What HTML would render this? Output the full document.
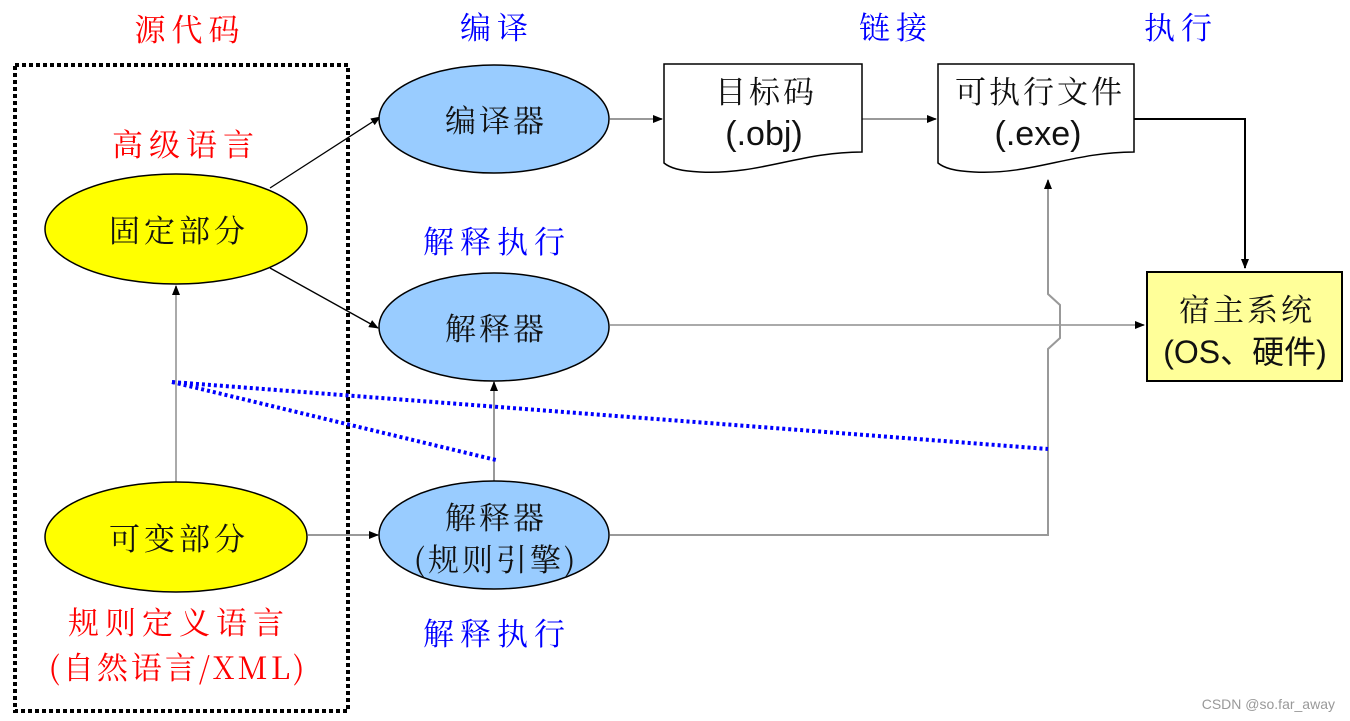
<!DOCTYPE html>
<html><head><meta charset="utf-8"><style>
html,body{margin:0;padding:0;background:#fff;}
svg{display:block;}
text{font-family:"Liberation Sans","Noto Sans CJK SC",sans-serif;}
.k{font-family:"Noto Serif CJK SC","Noto Sans CJK SC",serif;}
</style></head><body>
<svg width="1350" height="721" viewBox="0 0 1350 721" xmlns="http://www.w3.org/2000/svg">
<defs>
<marker id="a" markerWidth="10" markerHeight="8" refX="9" refY="4" orient="auto" markerUnits="userSpaceOnUse">
<path d="M0,0 L10,4 L0,8 z" fill="#000"/></marker>
</defs>
<rect x="15" y="65" width="333" height="646" fill="none" stroke="#000" stroke-width="4" stroke-dasharray="4,3"/>
<g font-size="31" text-anchor="middle" letter-spacing="6">
<text x="190" y="41" fill="#f00" class="k">源代码</text>
<text x="497" y="39" fill="#00f" class="k">编译</text>
<text x="896" y="39" fill="#00f" class="k">链接</text>
<text x="1181" y="39" fill="#00f" class="k">执行</text>
<text x="186" y="156" fill="#f00" class="k">高级语言</text>
<text x="497" y="253" fill="#00f" class="k">解释执行</text>
<text x="497" y="645" fill="#00f" class="k">解释执行</text>
<text x="179" y="634" fill="#f00" class="k">规则定义语言</text>
<text x="178" y="679" fill="#f00" class="k" letter-spacing="3">(自然语言/XML)</text>
</g>
<g stroke="#999" stroke-width="2" fill="none">
<line x1="176" y1="483" x2="176" y2="286" stroke="#aaa" marker-end="url(#a)"/>
<line x1="494" y1="481" x2="494" y2="382" marker-end="url(#a)"/>
<line x1="308" y1="535" x2="378" y2="535" marker-end="url(#a)"/>
<line x1="610" y1="325" x2="1144" y2="325" stroke="#aaa" marker-end="url(#a)"/>
<polyline points="610,535 1048,535 1048,349 1060,338 1060,305 1048,294 1048,180" marker-end="url(#a)"/>
<line x1="610" y1="119" x2="662" y2="119" marker-end="url(#a)"/>
<line x1="862" y1="119" x2="936" y2="119" marker-end="url(#a)"/>
<polyline points="1134,119 1245,119 1245,268" stroke="#000" marker-end="url(#a)"/>
</g>
<line x1="270" y1="188" x2="380" y2="117" stroke="#000" stroke-width="1.3" marker-end="url(#a)"/>
<line x1="270" y1="268" x2="378" y2="328" stroke="#000" stroke-width="1.3" marker-end="url(#a)"/>
<g stroke="#00f" stroke-width="4" stroke-dasharray="3,3" fill="none">
<line x1="172" y1="382" x2="1048" y2="449"/>
<line x1="172" y1="382" x2="496" y2="460"/>
</g>
<g stroke="#000" stroke-width="1.5">
<ellipse cx="176" cy="229" rx="131" ry="55" fill="#ffff00"/>
<ellipse cx="176" cy="537" rx="131" ry="55" fill="#ffff00"/>
<ellipse cx="494" cy="119" rx="115" ry="54" fill="#99ccff"/>
<ellipse cx="494" cy="327" rx="115" ry="54" fill="#99ccff"/>
<ellipse cx="494" cy="535" rx="115" ry="54" fill="#99ccff"/>
</g>
<g stroke="#000" stroke-width="1.5" fill="#fff">
<path d="M664,64 H862 V152 C800,152 760,175 700,172 C680,171 670,168 664,163 Z"/>
<path d="M938,64 H1134 V152 C1072,152 1032,175 974,172 C954,171 944,168 938,163 Z"/>
</g>
<rect x="1147" y="272" width="195" height="109" fill="#ffff99" stroke="#000" stroke-width="2"/>
<g font-size="31" text-anchor="middle" fill="#111">
<text x="179" y="242" class="k" letter-spacing="4">固定部分</text>
<text x="179" y="550" class="k" letter-spacing="4">可变部分</text>
<text x="496" y="132" class="k" letter-spacing="3">编译器</text>
<text x="496" y="340" class="k" letter-spacing="3">解释器</text>
<text x="496" y="529" class="k" letter-spacing="3">解释器</text>
<text x="496" y="571" class="k" letter-spacing="3">(规则引擎)</text>
<text x="766" y="103" class="k" letter-spacing="3">目标码</text>
<text x="764" y="145" font-size="34">(.obj)</text>
<text x="1040" y="103" class="k" letter-spacing="3">可执行文件</text>
<text x="1038" y="145" font-size="34">(.exe)</text>
<text x="1247" y="321" class="k" letter-spacing="3">宿主系统</text>
<text x="1245" y="363" font-size="32">(OS、硬件)</text>
</g>
<text x="1335" y="709" font-size="14" fill="#999" text-anchor="end">CSDN @so.far_away</text>
</svg>
</body></html>
